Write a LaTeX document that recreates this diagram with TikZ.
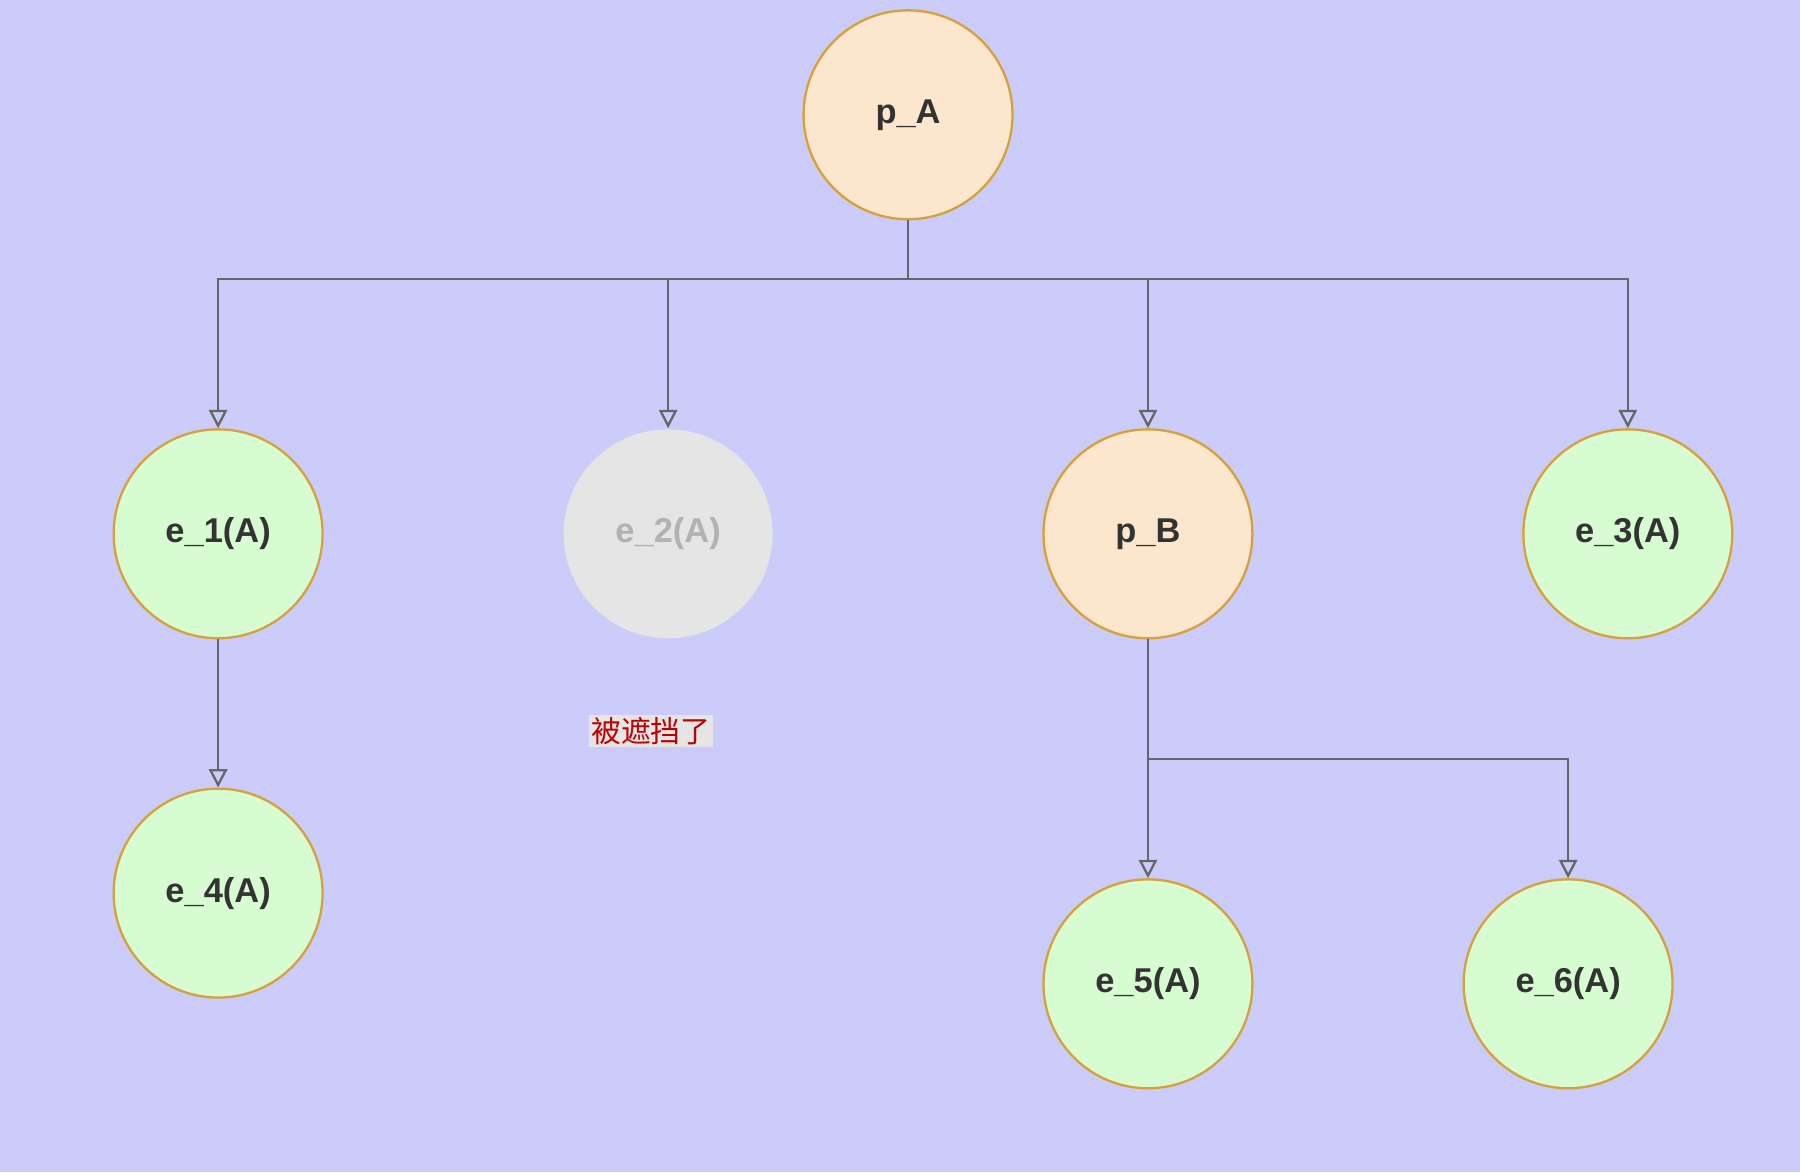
\documentclass[tikz,border=0pt]{standalone}
\usepackage{fontspec}
\setmainfont{Liberation Sans}
\newfontfamily\cjk{Noto Sans CJK SC}
\usetikzlibrary{arrows.meta}
\definecolor{bg}{HTML}{CCCCFA}
\definecolor{orf}{HTML}{FCE6CD}
\definecolor{grf}{HTML}{D8FCD2}
\definecolor{bd}{HTML}{D6A13A}
\definecolor{ln}{HTML}{666666}
\begin{document}
\begin{tikzpicture}[x=0.5pt,y=-0.5pt,
  nd/.style={circle,draw=bd,line width=1pt,minimum size=91pt,inner sep=0pt,font=\fontsize{15}{18}\selectfont\bfseries,text=black!80},
  orn/.style={nd,fill=orf},
  grn/.style={nd,fill=grf},
  hid/.style={nd,draw=none,fill=black!10,text=black!30},
  con/.style={draw=ln,line width=1pt,-{Triangle[open=false,length=8pt,width=8pt]}}]
\fill[bg] (0,0) rectangle (1568,1021);
\useasboundingbox (0,0) rectangle (1568,1021);
\node[orn] (pA) at (791,100) {p\_A};
\node[grn] (e1) at (190,465) {e\_1(A)};
\node[hid] (e2) at (582,465) {e\_2(A)};
\node[orn] (pB) at (1000,465) {p\_B};
\node[grn] (e3) at (1418,465) {e\_3(A)};
\node[grn] (e4) at (190,778) {e\_4(A)};
\node[grn] (e5) at (1000,857) {e\_5(A)};
\node[grn] (e6) at (1366,857) {e\_6(A)};
\node[fill=black!10,inner sep=1pt,text=red!75!black,font=\cjk\fontsize{13}{15}\selectfont] (t) at (567,637) {被遮挡了};
\coordinate (b) at (791,243);
\coordinate (c) at (1000,661);
\draw[draw=ln,line width=1pt] (pA) -- (b);
\foreach \n in {e1,e2,pB,e3} \draw[con] (b) -| (\n);
\draw[con] (e1) -- (e4);
\draw[draw=ln,line width=1pt] (pB) -- (c);
\draw[con] (c) -- (e5);
\draw[con] (c) -| (e6);
\end{tikzpicture}
\end{document}
